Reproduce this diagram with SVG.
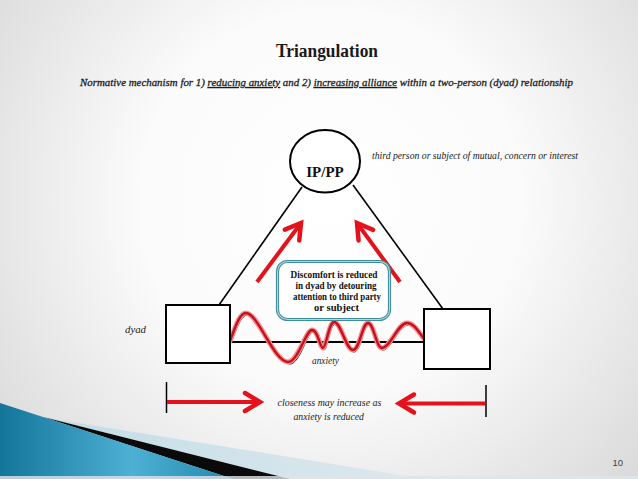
<svg xmlns="http://www.w3.org/2000/svg" width="638" height="479" viewBox="0 0 638 479">
<defs>
<radialGradient id="bg" cx="330" cy="200" r="420" gradientUnits="userSpaceOnUse">
<stop offset="0" stop-color="#ffffff"/>
<stop offset="0.45" stop-color="#fbfbfb"/>
<stop offset="1" stop-color="#d9d9d9"/>
</radialGradient>
<linearGradient id="blue" x1="0" y1="0" x2="240" y2="0" gradientUnits="userSpaceOnUse">
<stop offset="0" stop-color="#13759a"/>
<stop offset="0.55" stop-color="#4db0d4"/>
<stop offset="1" stop-color="#1f86ab"/>
</linearGradient>
<linearGradient id="pale" x1="60" y1="0" x2="420" y2="0" gradientUnits="userSpaceOnUse">
<stop offset="0" stop-color="#c4dde7"/>
<stop offset="1" stop-color="#dde9ee"/>
</linearGradient>
<marker id="arr" markerUnits="userSpaceOnUse" markerWidth="40" markerHeight="40" refX="0" refY="0" viewBox="-20 -20 40 40" orient="auto" overflow="visible">
<path d="M-15,-9 L0,0 L-15,9" fill="none" stroke="#e3121b" stroke-width="4.5" stroke-linecap="round" stroke-linejoin="miter"/>
</marker>
<style>
.serif{font-family:"Liberation Serif","Times New Roman",serif;}
.lbl{font-family:"Liberation Serif","Times New Roman",serif;font-style:italic;font-size:9.5px;fill:#222;}
.box{fill:#ffffff;stroke:#000;stroke-width:2;}
.tri{fill:none;stroke:#000;stroke-width:1.6;}
.red{fill:none;stroke:#e3121b;stroke-width:4;marker-end:url(#arr);}
.inbox{font-family:"Liberation Serif","Times New Roman",serif;font-weight:bold;font-size:11px;fill:#111;text-anchor:middle;}
</style>
</defs>
<rect width="638" height="479" fill="url(#bg)"/>
<g id="decoration">
<polygon points="60,420 425,479 290,479 43,417" fill="url(#pale)"/>
<polygon points="43,417 290,479 233,479" fill="#0a0a0a"/>
<polygon points="0,403 43,417 233,479 0,479" fill="url(#blue)"/>
<rect x="0" y="476" width="638" height="3" fill="#dfe5e8" opacity="0.8"/>
</g>
<g id="title">
<text class="serif" x="276" y="56.5" font-size="18.5" font-weight="bold" fill="#1a1a1a" textLength="102" lengthAdjust="spacingAndGlyphs">Triangulation</text>
</g>
<g id="subtitle">
<text class="serif" x="80" y="86" font-size="10.5" font-style="italic" fill="#1e1e1e" stroke="#1e1e1e" stroke-width="0.3" textLength="493" lengthAdjust="spacingAndGlyphs">Normative mechanism for 1) <tspan text-decoration="underline">reducing anxiety</tspan> and 2) <tspan text-decoration="underline">increasing alliance</tspan> within a two-person (dyad) relationship</text>
</g>
<g id="connectors">
<line class="tri" x1="302" y1="187" x2="219" y2="305"/>
<line class="tri" x1="353" y1="185" x2="443" y2="309"/>
<line x1="230" y1="342" x2="424" y2="342" stroke="#000" stroke-width="2"/>
<line class="red" x1="257" y1="282" x2="301" y2="223"/>
<line class="red" x1="400" y1="282" x2="357" y2="223"/>
<g id="anxiety-wave" fill="none">
<path d="M231,343 C237,327 241,315 248,315 C260,315 276,364 290,364 C300,364 307,332 313,332 C319,332 321,350 324,350 C327,350 330,324 335,324 C342,324 347,352 354,352 C361,352 363,325 369,325 C375,325 377,350 383,350 C391,350 399,325 408,325 C416,325 421,337 427,343" stroke="#000" stroke-width="1"/>
<path d="M230,341 C236,325 240,313 246,313 C258,313 274,362 288,362 C298,362 306,330 312,330 C318,330 320,348 323,348 C326,348 329,322 334,322 C341,322 346,350 353,350 C360,350 362,323 368,323 C374,323 376,348 382,348 C390,348 398,323 407,323 C415,323 420,335 427,342" stroke="#f08f92" stroke-width="5" stroke-linecap="round"/>
<path d="M230,341 C236,325 240,313 246,313 C258,313 274,362 288,362 C298,362 306,330 312,330 C318,330 320,348 323,348 C326,348 329,322 334,322 C341,322 346,350 353,350 C360,350 362,323 368,323 C374,323 376,348 382,348 C390,348 398,323 407,323 C415,323 420,335 427,342" stroke="#c8101a" stroke-width="2.4" stroke-linecap="round"/>
</g>
<line x1="166.5" y1="382" x2="166.5" y2="413" stroke="#000" stroke-width="1.5"/>
<line x1="486" y1="385" x2="486" y2="417" stroke="#000" stroke-width="1.5"/>
<line class="red" x1="167" y1="402" x2="260" y2="402"/>
<line class="red" x1="485" y1="403.5" x2="399" y2="403.5"/>
</g>
<g id="node-ippp">
<ellipse cx="325" cy="161.3" rx="35" ry="31.3" fill="#fff" stroke="#000" stroke-width="2"/>
<text class="serif" x="325" y="177" font-size="15" font-weight="bold" text-anchor="middle" fill="#111">IP/PP</text>
</g>
<g id="node-third-label">
<text class="lbl" x="372" y="159" font-size="8.5" textLength="206" lengthAdjust="spacingAndGlyphs">third person or subject of mutual, concern or interest</text>
</g>
<g id="node-left">
<rect class="box" x="166" y="305" width="64" height="58"/>
</g>
<g id="node-right">
<rect class="box" x="424" y="309" width="66" height="60"/>
</g>
<g id="node-info">
<rect x="277.5" y="261.5" width="112" height="58" rx="10" fill="#fff" stroke="#3f8c9c" stroke-width="3.2"/>
<rect x="277.5" y="261.5" width="112" height="58" rx="10" fill="none" stroke="#b5d8df" stroke-width="1.1"/>
<text class="inbox" x="334" y="278" textLength="87" lengthAdjust="spacingAndGlyphs">Discomfort is reduced</text>
<text class="inbox" x="336" y="288.7" textLength="81" lengthAdjust="spacingAndGlyphs">in dyad by detouring</text>
<text class="inbox" x="337" y="299.6" textLength="88" lengthAdjust="spacingAndGlyphs">attention to third party</text>
<text class="inbox" x="336.5" y="310.5" textLength="45" lengthAdjust="spacingAndGlyphs">or subject</text>
</g>
<g id="labels">
<text class="lbl" x="125" y="333" textLength="21" lengthAdjust="spacingAndGlyphs">dyad</text>
<text class="lbl" x="312" y="364" textLength="27" lengthAdjust="spacingAndGlyphs">anxiety</text>
<text class="lbl" x="277.5" y="405.5" textLength="104" lengthAdjust="spacingAndGlyphs">closeness may increase as</text>
<text class="lbl" x="293.5" y="419.5" textLength="70.5" lengthAdjust="spacingAndGlyphs">anxiety is reduced</text>
</g>
<g id="page-number">
<text x="623" y="466" font-family="'Liberation Sans',Arial,sans-serif" font-size="9.5" fill="#444" text-anchor="end">10</text>
</g>
</svg>
